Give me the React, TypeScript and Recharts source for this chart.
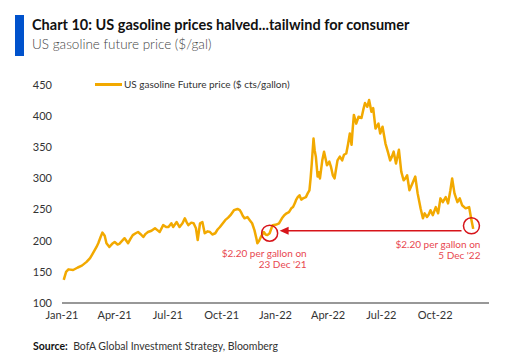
import React from 'react'
import { LineChart, Line, XAxis, YAxis, ReferenceDot, ReferenceLine } from 'recharts'

// US gasoline futures, US cents per gallon
const dates = [
  '2021-01-04', '2021-01-08', '2021-01-12', '2021-01-20', '2021-01-28', '2021-02-04', '2021-02-12', '2021-02-18',
  '2021-02-23', '2021-03-01', '2021-03-04', '2021-03-08', '2021-03-11', '2021-03-15', '2021-03-18', '2021-03-23',
  '2021-03-29', '2021-04-01', '2021-04-06', '2021-04-09', '2021-04-14', '2021-04-18', '2021-04-24', '2021-04-28',
  '2021-05-02', '2021-05-07', '2021-05-11', '2021-05-16', '2021-05-20', '2021-05-24', '2021-05-28', '2021-06-03',
  '2021-06-09', '2021-06-13', '2021-06-17', '2021-06-23', '2021-06-28', '2021-07-02', '2021-07-07', '2021-07-10',
  '2021-07-13', '2021-07-16', '2021-07-21', '2021-07-26', '2021-07-30', '2021-08-02', '2021-08-05', '2021-08-10',
  '2021-08-14', '2021-08-18', '2021-08-21', '2021-08-25', '2021-08-29', '2021-09-02', '2021-09-07', '2021-09-11',
  '2021-09-15', '2021-09-20', '2021-09-24', '2021-09-28', '2021-10-03', '2021-10-07', '2021-10-12', '2021-10-16',
  '2021-10-22', '2021-10-28', '2021-11-01', '2021-11-03', '2021-11-06', '2021-11-09', '2021-11-14', '2021-11-18',
  '2021-11-22', '2021-11-26', '2021-11-29', '2021-12-01', '2021-12-04', '2021-12-07', '2021-12-12', '2021-12-15',
  '2021-12-18', '2021-12-22', '2021-12-27', '2022-01-03', '2022-01-07', '2022-01-12', '2022-01-16', '2022-01-20',
  '2022-01-24', '2022-01-28', '2022-01-31', '2022-02-03', '2022-02-05', '2022-02-08', '2022-02-11', '2022-02-14',
  '2022-02-17', '2022-02-22', '2022-02-25', '2022-02-28', '2022-03-02', '2022-03-04', '2022-03-07', '2022-03-09',
  '2022-03-11', '2022-03-14', '2022-03-16', '2022-03-18', '2022-03-22', '2022-03-25', '2022-03-28', '2022-03-30',
  '2022-04-03', '2022-04-06', '2022-04-09', '2022-04-12', '2022-04-14', '2022-04-17', '2022-04-21', '2022-04-25',
  '2022-04-28', '2022-05-02', '2022-05-05', '2022-05-08', '2022-05-11', '2022-05-13', '2022-05-15', '2022-05-19',
  '2022-05-23', '2022-05-28', '2022-05-31', '2022-06-03', '2022-06-07', '2022-06-10', '2022-06-14', '2022-06-17',
  '2022-06-21', '2022-06-26', '2022-06-29', '2022-07-03', '2022-07-08', '2022-07-12', '2022-07-16', '2022-07-19',
  '2022-07-22', '2022-07-26', '2022-07-31', '2022-08-04', '2022-08-08', '2022-08-11', '2022-08-14', '2022-08-18',
  '2022-08-23', '2022-08-28', '2022-09-01', '2022-09-06', '2022-09-10', '2022-09-13', '2022-09-17', '2022-09-20',
  '2022-09-23', '2022-09-27', '2022-10-02', '2022-10-06', '2022-10-10', '2022-10-14', '2022-10-19', '2022-10-23',
  '2022-10-27', '2022-10-30', '2022-11-03', '2022-11-08', '2022-11-12', '2022-11-16', '2022-11-22', '2022-11-28',
  '2022-12-01', '2022-12-05',
]

const prices = [
  137, 150, 154, 153, 157, 160, 166, 172,
  180, 190, 196, 206, 213, 208, 196, 190,
  196, 198, 194, 195, 200, 204, 196, 203,
  209, 212, 214, 210, 206, 211, 214, 216,
  220, 217, 214, 225, 222, 222, 228, 222,
  226, 230, 222, 228, 236, 230, 225, 229,
  228, 220, 201, 228, 230, 212, 215, 214,
  210, 212, 218, 222, 228, 233, 237, 241,
  249, 251, 249, 246, 240, 236, 238, 233,
  228, 217, 205, 196, 200, 206, 214, 210,
  209, 212, 225, 226, 228, 236, 241, 244,
  246, 252, 254, 260, 265, 270, 273, 266,
  268, 270, 276, 281, 300, 324, 364, 345,
  335, 303, 310, 300, 329, 343, 330, 321,
  327, 318, 305, 300, 312, 329, 335, 329,
  338, 340, 355, 372, 354, 380, 402, 388,
  399, 397, 410, 421, 415, 426, 407, 413,
  380, 388, 372, 383, 356, 343, 329, 335,
  343, 324, 346, 311, 297, 300, 305, 281,
  292, 303, 276, 252, 236, 244, 238, 242,
  249, 241, 254, 244, 268, 262, 270, 260,
  281, 300, 276, 262, 268, 257, 252, 254,
  238, 219,
]

const yTicks = [100, 150, 200, 250, 300, 350, 400, 450]
const xTickDates = ['2021-01-01', '2021-04-01', '2021-07-01', '2021-10-01', '2022-01-01', '2022-04-01', '2022-07-01', '2022-10-01']
const xDomainDates = ['2021-01-01', '2023-01-01']
const MONTHS = ['Jan', 'Feb', 'Mar', 'Apr', 'May', 'Jun', 'Jul', 'Aug', 'Sep', 'Oct', 'Nov', 'Dec']

// annotations
const markLow = { date: '2021-12-22', value: 212 }
const markEnd = { date: '2022-12-02', value: 224 }
const arrowFrom = { date: '2022-11-15', value: 216 }
const arrowTo = { date: '2022-01-08', value: 216 }

const ts = (d: string) => Date.parse(d + 'T00:00:00Z')
const data = dates.map((d, i) => ({ t: ts(d), price: prices[i] }))

const FONT = 'Lato, "Open Sans", sans-serif'
const GOLD = '#F2A900'
const RED = '#D7141A'
const TEXT_RED = '#E8474F'

const fmtTick = (v: number) => {
  const d = new Date(v)
  return `${MONTHS[d.getUTCMonth()]}-${String(d.getUTCFullYear()).slice(2)}`
}

function Arrow(props: any) {
  const { x1, y1, x2, y2 } = props
  return (
    <g>
      <line x1={x1} y1={y1} x2={x2 + 6} y2={y2} stroke={RED} strokeWidth={1.3} />
      <polygon points={`${x2},${y2} ${x2 + 9},${y2 - 4} ${x2 + 9},${y2 + 4}`} fill={RED} />
    </g>
  )
}

function noteShape(lines: string[], dx: number, dy: number) {
  return (p: any) => (
    <text textAnchor="end" fontFamily={FONT} fontSize={10} fill={TEXT_RED}>
      {lines.map((l, i) => (
        <tspan key={i} x={p.cx + dx} y={p.cy + dy + i * 11}>{l}</tspan>
      ))}
    </text>
  )
}

export default function App() {
  return (
    <div style={{ position: 'absolute', left: 0, top: 0, width: 512, height: 357, background: '#fff', fontFamily: FONT }}>
      <div style={{ position: 'absolute', left: 15, top: 15, width: 9, height: 41, background: '#0052CC' }} />
      <div style={{ position: 'absolute', left: 32, top: 16, fontSize: 14.5, fontWeight: 700, color: '#111', whiteSpace: 'nowrap' }}>
        Chart 10: US gasoline prices halved...tailwind for consumer
      </div>
      <div style={{ position: 'absolute', left: 32, top: 36, fontSize: 13.5, fontWeight: 300, color: '#444', whiteSpace: 'nowrap' }}>
        US gasoline future price ($/gal)
      </div>

      <div style={{ position: 'absolute', left: 95, top: 78, display: 'flex', alignItems: 'center', fontSize: 10, color: '#333', whiteSpace: 'nowrap' }}>
        <span style={{ display: 'inline-block', width: 27, height: 3, background: GOLD, marginRight: 2 }} />
        US gasoline Future price ($ cts/gallon)
      </div>

      <div style={{ position: 'absolute', left: 0, top: 0 }}>
        <LineChart width={512} height={357} data={data} margin={{ top: 85, right: 23, left: 12, bottom: 24 }}>
          <XAxis
            dataKey="t"
            type="number"
            scale="time"
            domain={[ts(xDomainDates[0]), ts(xDomainDates[1])]}
            ticks={xTickDates.map(ts)}
            tickFormatter={fmtTick}
            tick={{ fill: '#333', fontSize: 11, fontFamily: FONT }}
            axisLine={{ stroke: '#333', strokeWidth: 1.2 }}
            tickLine={false}
            height={30}
          />
          <YAxis
            domain={[100, 450]}
            ticks={yTicks}
            tick={{ fill: '#333', fontSize: 11, fontFamily: FONT }}
            axisLine={false}
            tickLine={false}
            tickMargin={4}
            width={50}
            interval={0}
          />
          <Line
            dataKey="price"
            stroke={GOLD}
            strokeWidth={2.5}
            dot={false}
            isAnimationActive={false}
            strokeLinejoin="round"
          />
          <ReferenceLine
            segment={[{ x: ts(arrowFrom.date), y: arrowFrom.value }, { x: ts(arrowTo.date), y: arrowTo.value }]}
            stroke={RED}
            shape={Arrow}
          />
          <ReferenceDot x={ts(markLow.date)} y={markLow.value} r={8} fill="none" stroke={RED} strokeWidth={1.5} />
          <ReferenceDot x={ts(markEnd.date)} y={markEnd.value} r={8} fill="none" stroke={RED} strokeWidth={1.5} />
          <ReferenceDot
            x={ts(markLow.date)}
            y={markLow.value}
            r={0}
            shape={noteShape(['$2.20 per gallon on', "23 Dec '21"], 37, 24)}
          />
          <ReferenceDot
            x={ts(markEnd.date)}
            y={markEnd.value}
            r={0}
            shape={noteShape(['$2.20 per gallon on', "5 Dec '22"], 9, 22)}
          />
        </LineChart>
      </div>

      <div style={{ position: 'absolute', left: 33, top: 340, fontSize: 10.5, color: '#333', whiteSpace: 'nowrap' }}>
        <b style={{ color: '#111' }}>Source:</b>&nbsp; BofA Global Investment Strategy, Bloomberg
      </div>
    </div>
  )
}
